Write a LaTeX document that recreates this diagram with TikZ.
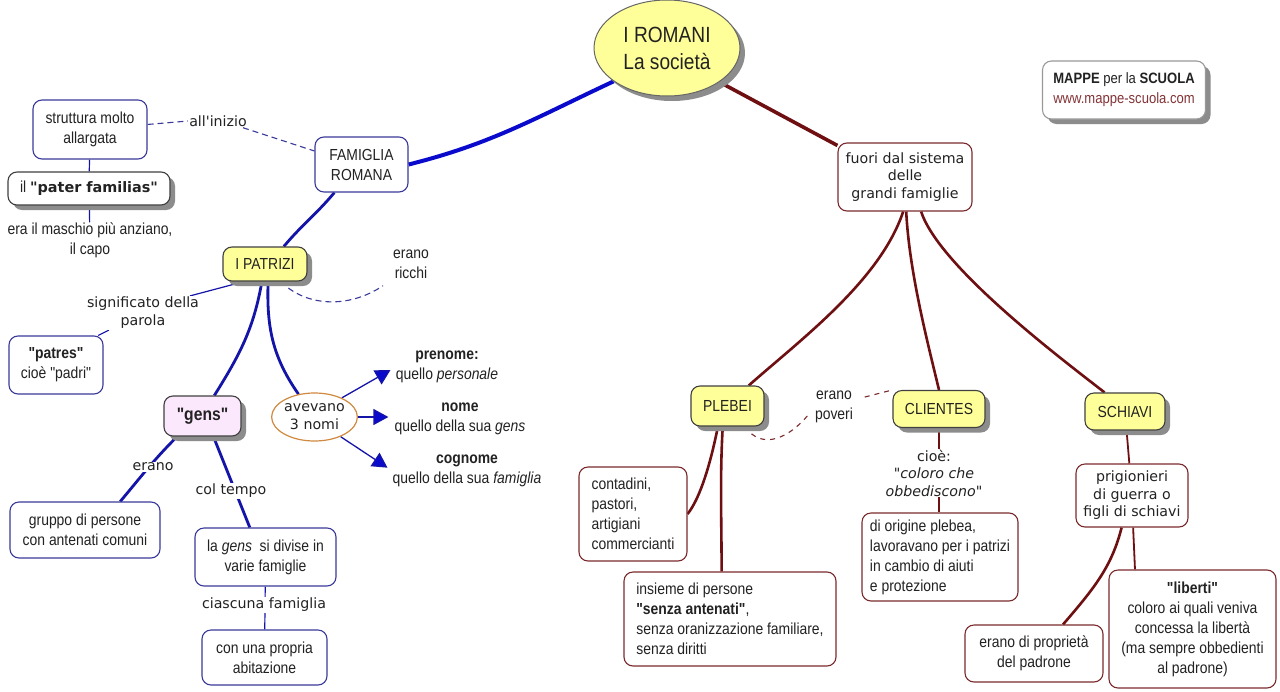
\documentclass[tikz,border=0pt]{standalone}
\usepackage{fontspec}
\newfontfamily\mf[FakeStretch=0.87]{Liberation Sans}
\newfontfamily\labfont{DejaVu Sans}
\usetikzlibrary{shapes.geometric,arrows.meta,backgrounds,shadows}
\definecolor{bl}{HTML}{1414A8}
\definecolor{blb}{HTML}{3A3A9A}
\definecolor{thickb}{HTML}{0A0ACC}
\definecolor{br}{HTML}{6E0F12}
\definecolor{brb}{HTML}{7A2A2C}
\definecolor{ylw}{HTML}{FFFF99}
\definecolor{txt}{HTML}{222222}
\definecolor{shd}{HTML}{8C8C8C}
\definecolor{gensfill}{HTML}{FCE8FC}
\definecolor{orng}{HTML}{D08A40}
\tikzset{
 sz/.style 2 args={minimum width=#1pt,minimum height=#2pt},
 nd/.style={inner sep=0pt,align=center,text=txt,font=\mf\fontsize{16}{20}\selectfont},
 mbox/.style={nd,rectangle,rounded corners=9pt,draw=blb,line width=1.1pt,fill=white},
 rbox/.style={nd,rectangle,rounded corners=9pt,draw=brb,line width=1.1pt,fill=white},
 shbox/.style={nd,rectangle,rounded corners=9pt,draw=black!75,line width=1.1pt,
   drop shadow={shadow xshift=5pt,shadow yshift=-5pt,fill=shd,opacity=1}},
 plain/.style={nd},
 lab/.style={inner sep=1pt,align=center,text=txt,fill=white,font=\labfont\fontsize{14.2}{18}\selectfont},
 blue1/.style={draw=bl,line width=1.2pt},
 blue3/.style={draw=bl,line width=2.8pt},
 brown1/.style={draw=br,line width=1.8pt},
 brown3/.style={draw=br,line width=2.6pt},
 dashb/.style={draw=blb,line width=1.1pt,dash pattern=on 6pt off 4pt},
 dashr/.style={draw=brb,line width=1.1pt,dash pattern=on 5pt off 5pt},
 arr/.style={draw=bl,line width=1.3pt,shorten >=6pt,-{Triangle[length=15pt,width=16pt,fill=thickb]}},
}
\begin{document}
\begin{tikzpicture}[x=1pt,y=-1pt]
\useasboundingbox (0,0) rectangle (1280,691);
% main nodes
\node[nd,ellipse,sz={146}{96},draw=black!60,line width=1pt,fill=ylw,
  drop shadow={shadow xshift=5pt,shadow yshift=-5pt,fill=shd,opacity=1},
  font=\mf\fontsize{22}{27}\selectfont] (romani) at (667,48) {I ROMANI\\La società};
\node[shbox,sz={163}{58},fill=white,draw=black!40,font=\mf\fontsize{15}{20}\selectfont] (mappe) at (1124,90)
  {\textbf{MAPPE} per la \textbf{SCUOLA}\\\textcolor{br!85!white}{www.mappe-scuola.com}};
\node[mbox,sz={114}{59}] (struttura) at (90,129.5) {struttura molto\\allargata};
\node[shbox,sz={162}{33},fill=white] (pater) at (89,188.5) {il \textbf{\labfont\fontsize{14.4}{20}\selectfont"pater familias"}};
\node[plain] (maschio) at (90,240) {era il maschio più anziano,\\il capo};
\node[mbox,sz={93}{55}] (famiglia) at (361.5,164.5) {FAMIGLIA\\ROMANA};
\node[lab] (inizio) at (218,121) {all'inizio};
\node[shbox,sz={84}{34},fill=ylw] (patrizi) at (265,264) {I PATRIZI};
\node[lab] (significato) at (143,313) {significato della\\parola};
\node[plain] (ricchi) at (411,264.5) {erano\\ricchi};
\node[mbox,sz={94}{58}] (patres) at (56,365) {\textbf{"patres"}\\cioè "padri"};
\node[shbox,sz={77}{40},fill=gensfill,font=\mf\fontsize{18}{20}\selectfont] (gens) at (202.5,416) {\textbf{"gens"}};
\node[ellipse,sz={85}{48},inner sep=0pt,align=center,draw=orng,line width=1.2pt,fill=white,text=txt,
  font=\labfont\fontsize{14.2}{18}\selectfont] (avevano) at (314.5,417) {avevano\\3 nomi};
\node[plain] (prenome) at (447,367) {\textbf{prenome:}\\quello \textit{personale}};
\node[plain] (nome) at (460,419) {\textbf{nome}\\quello della sua \textit{gens}};
\node[plain] (cognome) at (467,471) {\textbf{cognome}\\quello della sua \textit{famiglia}};
\node[lab] (erano1) at (153,467) {erano};
\node[lab] (coltempo) at (231,491) {col tempo};
\node[mbox,sz={150}{56}] (gruppo) at (85,530) {gruppo di persone\\con antenati comuni};
\node[mbox,sz={141}{58}] (divise) at (265.5,557) {la \textit{gens}\ \ si divise in\\varie famiglie};
\node[lab] (ciascuna) at (264,605) {ciascuna famiglia};
\node[mbox,sz={125}{55}] (propria) at (264.5,657.5) {con una propria\\abitazione};
% right side
\node[rbox,sz={134}{68},font=\labfont\fontsize{14.2}{17.5}\selectfont] (fuori) at (905,177) {fuori dal sistema\\delle\\grandi famiglie};
\node[shbox,sz={73}{40},fill=ylw] (plebei) at (727.5,406) {PLEBEI};
\node[shbox,sz={92}{37},fill=ylw] (clientes) at (939,409) {CLIENTES};
\node[shbox,sz={80}{37},fill=ylw] (schiavi) at (1125,411.5) {SCHIAVI};
\node[plain] (poveri) at (834,407) {erano\\poveri};
\node[lab,font=\labfont\fontsize{14.2}{17.5}\selectfont] (cioe) at (934,473) {cioè:\\\textit{"coloro che}\\\textit{obbediscono"}};
\node[rbox,sz={112}{63},font=\labfont\fontsize{14.2}{17.5}\selectfont] (prigionieri) at (1132,495.5) {prigionieri\\di guerra o\\figli di schiavi};
\node[rbox,sz={108}{94},align=left] (contadini) at (633,514) {contadini,\\pastori,\\artigiani\\commercianti};
\node[rbox,sz={212}{94},align=left] (insieme) at (730,619) {insieme di persone\\\textbf{"senza antenati"},\\senza oranizzazione familiare,\\senza diritti};
\node[rbox,sz={156}{88},align=left] (origine) at (940,557) {di origine plebea,\\lavoravano per i patrizi\\in cambio di aiuti\\e protezione};
\node[rbox,sz={138}{57}] (proprieta) at (1034,653.5) {erano di proprietà\\del padrone};
\node[rbox,sz={167}{118}] (liberti) at (1192.5,629) {\textbf{"liberti"}\\coloro ai quali veniva\\concessa la libertà\\(ma sempre obbedienti\\al padrone)};
% connectors
\begin{pgfonlayer}{background}
\fill[white] (0,0) rectangle (1280,691);
\draw[draw=thickb,line width=4pt] (romani.212) to[out=205,in=14] (famiglia.east);
\draw[draw=br,line width=3.6pt] (romani.-33) -- (fuori.155);
\draw[blue3] (famiglia.-134) to[out=-130,in=50] (patrizi.43);
\draw[dashb] (struttura.5) -- (inizio.west);
\draw[dashb] (inizio.-15) -- (famiglia.164);
\draw[blue1] (struttura) -- (pater);
\draw[blue1] (pater) -- (maschio);
\draw[blue1] (patrizi.-140) -- (significato.20);
\draw[blue1] (significato) -- (patres.35);
\draw[dashb,shorten >=12pt] (patrizi.-48) .. controls +(25,25) and +(-45,30) .. (ricchi.south west);
\draw[blue3] (patrizi.-100) to[out=-100,in=58] (gens.60);
\draw[blue3] (patrizi.-80) to[out=-92,in=125] (avevano.125);
\draw[arr] (avevano.35) -- (prenome.west);
\draw[arr] (avevano.east) -- (avevano.east -| nome.west);
\draw[arr] (avevano.-37) -- (cognome.west);
\draw[blue3] (gens.-141) to[out=-135,in=50] (gruppo.39);
\draw[blue3] (gens.-62) -- (divise.118);
\draw[blue1] (divise) -- (propria);
\draw[brown3] (fuori.-93) .. controls +(-23,69) and +(52,-46) .. (plebei.44);
\draw[brown3] (fuori.-88) .. controls +(3,60) and +(-12,-50) .. (clientes.north);
\draw[brown3] (fuori.-65) .. controls +(18,55) and +(-45,-35) .. (schiavi.137);
\draw[brown3] (plebei.-115) .. controls +(-8,40) and +(12,-15) .. (contadini.east);
\draw[brown3] (plebei.-103) .. controls +(-3,50) and +(0,-50) .. (insieme.100);
\draw[dashr,shorten >=10pt] (plebei.-50) .. controls +(18,25) and +(-25,30) .. (poveri.west);
\draw[dashr,shorten <=12pt] (poveri.20) -- (clientes.north west);
\draw[brown1] (clientes) -- (clientes |- origine.north);
\draw[brown1] (schiavi) -- (prigionieri);
\draw[brown3] (prigionieri.-108) .. controls +(-10,40) and +(30,-35) .. (proprieta.45);
\draw[brown1] (prigionieri.-88) -- (liberti.134);
\end{pgfonlayer}
\end{tikzpicture}
\end{document}
